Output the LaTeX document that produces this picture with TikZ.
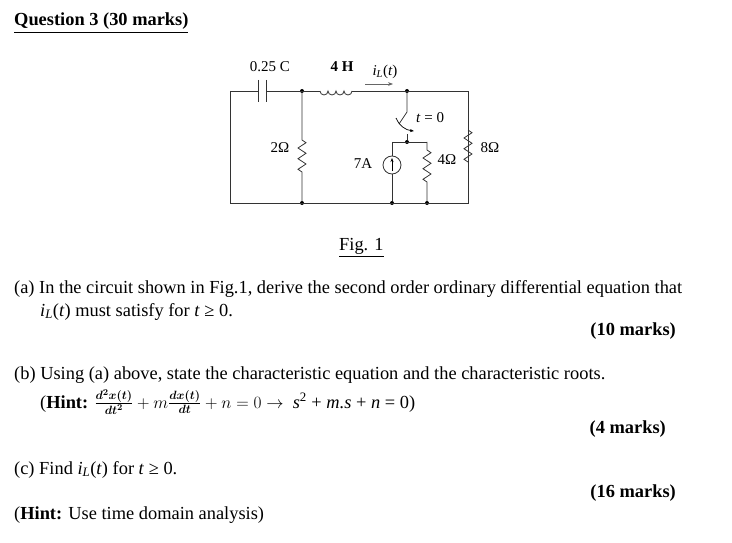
\documentclass[tikz,border=0pt]{standalone}
\usepackage{fontspec}
\usepackage{amsmath}
\setmainfont{Liberation Serif}
\usetikzlibrary{arrows.meta}
\tikzset{
 txt/.style={anchor=base west,inner sep=0,font=\fontsize{18.4}{22}\selectfont},
 txtr/.style={anchor=base east,inner sep=0,font=\fontsize{18.4}{22}\selectfont\bfseries},
 lab/.style={inner sep=0,font=\fontsize{15}{17}\selectfont},
 wire/.style={line width=0.8pt,black!80},
 dot/.style={circle,fill=black,inner sep=0,minimum size=4pt},
}
\begin{document}
\begin{tikzpicture}[x=1pt,y=-1pt]
\useasboundingbox (0,0) rectangle (732,543);
% texts
\node[txt,font=\fontsize{18.4}{22}\selectfont\bfseries] (title) at (14,26) {\underline{Question 3 (30 marks)}};
\node[txt] (fig) at (339,250) {\underline{Fig. 1}};
\node[txt] (a1) at (14,293) {(a) In the circuit shown in Fig.1, derive the second order ordinary differential equation that};
\node[txt] (a2) at (40,316) {\textit{i\textsubscript{L}}(\textit{t}) must satisfy for \textit{t} ≥ 0.};
\node[txtr] (m1) at (676,335) {(10 marks)};
\node[txt] (b1) at (14,379) {(b) Using (a) above, state the characteristic equation and the characteristic roots.};
\node[txt] (b2) at (40,408) {(\textbf{Hint:} $\frac{\boldsymbol{d^2x(t)}}{\boldsymbol{dt^2}}+m\frac{\boldsymbol{dx(t)}}{\boldsymbol{dt}}+n=0\rightarrow$\ \ \textit{s}\textsuperscript{2} + \textit{m.s} + \textit{n} = 0)};
\node[txtr] (m2) at (666,433) {(4 marks)};
\node[txt] (c1) at (14,474) {(c) Find \textit{i\textsubscript{L}}(\textit{t}) for \textit{t} ≥ 0.};
\node[txtr] (m3) at (676,497) {(16 marks)};
\node[txt] (c2) at (14,519) {(\textbf{Hint:} Use time domain analysis)};
% circuit nodes
\node[dot] (n1) at (302,91) {};
\node[dot] (n2) at (407,91) {};
\node[dot] (n3) at (407,142) {};
\node[dot] (b1d) at (302,203) {};
\node[dot] (b2d) at (392,203) {};
\node[dot] (b3d) at (427,203) {};
\coordinate (tl) at (230,91); \coordinate (bl) at (230,203);
\coordinate (tr) at (468,91); \coordinate (br) at (468,203);
% wires
\draw[wire] (tl) -- (bl) -- (br) -- (tr) -- (352,91);
\draw[wire] (tl) -- (258,91); \draw[wire] (258,80) -- (258,102);
\draw[wire] (266,80) -- (266,102); \draw[wire] (266,91) -- (320,91);
\draw[wire] (320,91) arc(180:0:4) arc(180:0:4) arc(180:0:4) arc(180:0:4);
\draw[-{Stealth[length=5pt]},black!60,line width=0.7pt] (365,84) -- (393,84);
% 2 ohm
\draw[wire] (n1) -- (302,140) -- (306,142.7) -- (298,148) -- (306,153.3) -- (298,158.7) -- (306,164) -- (298,169.3) -- (302,172) -- (b1d);
% 8 ohm
\draw[wire] (468,130) -- (472,132.7) -- (464,138) -- (472,143.3) -- (464,148.7) -- (472,154) -- (464,159.3) -- (468,162);
% 4 ohm
\draw[wire] (427,142) -- (427,150) -- (431,152.7) -- (423,158) -- (431,163.3) -- (423,168.7) -- (431,174) -- (423,179.3) -- (427,182) -- (b3d);
\draw[wire] (392,142) -- (427,142);
% source
\draw[wire] (392,142) -- (392,156) (392,174) -- (b2d);
\draw[wire] (392,165) circle (9);
\draw[-{Stealth[length=4pt]},line width=0.7pt] (392,171) -- (392,158);
% switch
\draw[wire] (n2) -- (407,112) -- (399,124);
\draw[-{Stealth[length=4pt]},line width=0.7pt] (396,118) to[bend right=30] (414,131);
\draw[wire] (407,134) -- (n3);
% labels
\node[lab] (lc) at (270,67) {0.25 C};
\node[lab,font=\fontsize{15}{17}\selectfont\bfseries] (ll) at (342,67) {4 H};
\node[lab] (li) at (385,72) {\textit{i\textsubscript{L}}(\textit{t})};
\node[lab,anchor=west] (ls) at (416,118) {\textit{t} = 0};
\node[lab] (l2) at (280,148) {2Ω};
\node[lab] (l8) at (490,148) {8Ω};
\node[lab] (l7) at (363,164) {7A};
\node[lab] (l4) at (447,160) {4Ω};
\end{tikzpicture}
\end{document}
